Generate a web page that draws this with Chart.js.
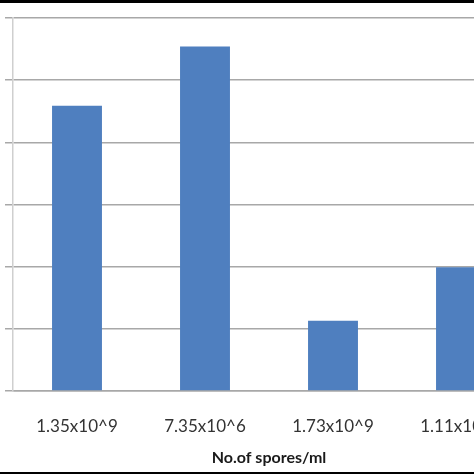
<!DOCTYPE html>
<html>
<head>
<meta charset="utf-8">
<script src="https://cdn.jsdelivr.net/npm/chart.js@4"></script>
<style>
    html, body { margin: 0; padding: 0; width: 474px; height: 474px; overflow: hidden; background: #000; }
    #wrap { position: absolute; left: 0; top: 3px; width: 474px; height: 469px; overflow: hidden; background: #fff; }
    #chart { position: absolute; left: 0; top: 0; }
</style>
</head>
<body>
<div id="wrap">
    <canvas id="chart" width="540" height="469"></canvas>
</div>
<script>
// 데이터
const categories = ["1.35x10^9", "7.35x10^6", "1.73x10^9", "1.11x10^8"];
const values = [4.59, 5.54, 1.13, 1.99];
const yTicks = [0, 1, 2, 3, 4, 5, 6];

const gridColor = "#a8a8a8";

const ctx = document.getElementById("chart").getContext("2d");

new Chart(ctx, {
    type: "bar",
    data: {
        labels: categories,
        datasets: [{
            data: values,
            backgroundColor: "#4f7fbf",
            borderWidth: 0,
            categoryPercentage: 1,
            barPercentage: 0.39
        }]
    },
    options: {
        responsive: false,
        animation: false,
        layout: {
            padding: { left: 5, right: 15, top: 15, bottom: 0 }
        },
        plugins: {
            legend: { display: false },
            tooltip: { enabled: false }
        },
        scales: {
            x: {
                grid: { display: false, drawTicks: false },
                border: { display: true, color: gridColor, width: 1.5 },
                ticks: {
                    padding: 25,
                    color: "#333",
                    maxRotation: 0,
                    autoSkip: false,
                    font: { family: "Lato", size: 17 }
                },
                title: {
                    display: true,
                    text: "No.of spores/ml",
                    color: "#1a1a1a",
                    padding: { top: 0, bottom: 5 },
                    font: { family: "Lato", size: 16, weight: "bold" }
                },
                afterFit: (scale) => { scale.height = 81; }
            },
            y: {
                min: yTicks[0],
                max: yTicks[yTicks.length - 1],
                ticks: { display: false, stepSize: 1 },
                grid: { color: gridColor, lineWidth: 1.5, drawTicks: true, tickLength: 8 },
                border: { display: true, color: "#cfcfcf", width: 1.5 },
                afterFit: (scale) => { scale.width = 8; }
            }
        }
    }
});
</script>
</body>
</html>
